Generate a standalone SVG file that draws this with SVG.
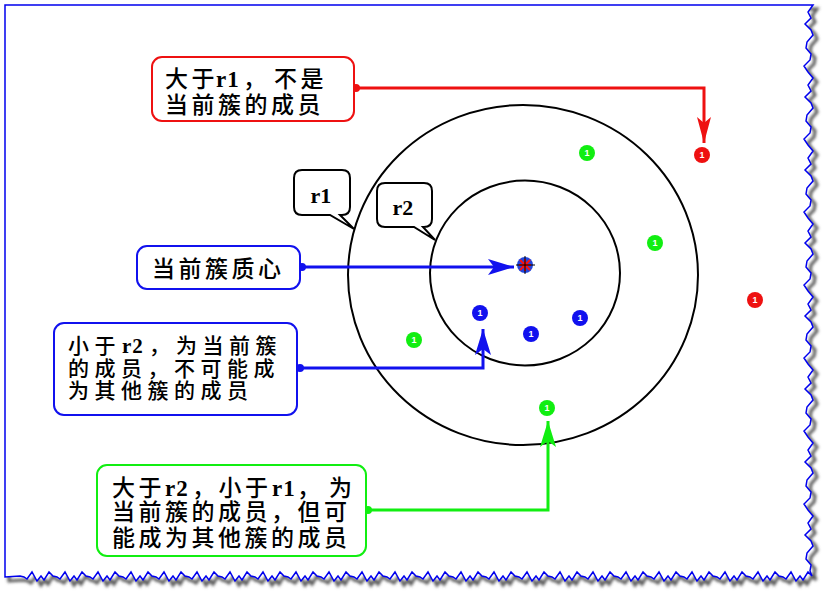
<svg xmlns="http://www.w3.org/2000/svg" xmlns:xlink="http://www.w3.org/1999/xlink" width="829" height="597" viewBox="0 0 829 597">
<style>
.box{fill:#fff;stroke-width:2}
.cn{font-family:"Noto Sans CJK SC","Liberation Sans",sans-serif;font-size:23px;font-weight:500;letter-spacing:3.5px;fill:#000}
.cs{font-size:21px;letter-spacing:5.5px}
.lat{font-family:"Liberation Serif",serif;font-weight:bold;letter-spacing:1px}
.bub{fill:#fff;stroke:#000;stroke-width:2}
.rl{font-family:"Liberation Serif",serif;font-weight:bold;font-size:22px;fill:#000;text-anchor:middle}
.ring{fill:none;stroke:#000;stroke-width:2}
.dt{font-family:"Liberation Sans",Arial,sans-serif;font-weight:bold;font-size:9px;fill:#fff;text-anchor:middle}
.g{fill:#11ee11}.r{fill:#ee1111}.b{fill:#1111ee}
.con{fill:none;stroke-width:3}
</style>
<defs>
<filter id="blur" x="-5%" y="-5%" width="110%" height="110%"><feGaussianBlur stdDeviation="1.6"/></filter>
<path id="frame" d="M5,5 H813 l-5,7 l3,6 l-6,6 l6,6 l2,5 l-6,7 l-1,6 l5,6 l-1,6 l-6,6 l4,6 l5,6 l-5,7 l3,6 l-6,6 l6,6 l2,5 l-6,7 l-1,6 l5,6 l-1,6 l-6,6 l4,6 l5,6 l-5,7 l3,6 l-6,6 l6,6 l2,5 l-6,7 l-1,6 l5,6 l-1,6 l-6,6 l4,6 l5,6 l-5,7 l3,6 l-6,6 l6,6 l2,5 l-6,7 l-1,6 l5,6 l-1,6 l-6,6 l4,6 l5,6 l-5,7 l3,6 l-6,6 l6,6 l2,5 l-6,7 l-1,6 l5,6 l-1,6 l-6,6 l4,6 l5,6 l-5,7 l3,6 l-6,6 l6,6 l2,5 l-6,7 l-1,6 l5,6 l-1,6 l-6,6 l4,6 l5,6 l-5,7 l3,6 l-6,6 l6,6 l2,5 l-6,7 l-1,6 l5,6 l-1,6 l-6,6 l4,6 l5,6 l-5,7 l3,6 l-6,6 l6,6 l2,5 l-6,7 l-1,6 l5,6 l-1,6 l2,5 l-4,-4 l-5,8 l-3,-4 l-4,5 l-5,-9 l-5,7 l-3,-2 l-4,-1 l-4,-4 l-5,8 l-3,-4 l-4,5 l-5,-9 l-5,7 l-3,-2 l-4,-1 l-4,-4 l-5,8 l-3,-4 l-4,5 l-5,-9 l-5,7 l-3,-2 l-4,-1 l-4,-4 l-5,8 l-3,-4 l-4,5 l-5,-9 l-5,7 l-3,-2 l-4,-1 l-4,-4 l-5,8 l-3,-4 l-4,5 l-5,-9 l-5,7 l-3,-2 l-4,-1 l-4,-4 l-5,8 l-3,-4 l-4,5 l-5,-9 l-5,7 l-3,-2 l-4,-1 l-4,-4 l-5,8 l-3,-4 l-4,5 l-5,-9 l-5,7 l-3,-2 l-4,-1 l-4,-4 l-5,8 l-3,-4 l-4,5 l-5,-9 l-5,7 l-3,-2 l-4,-1 l-4,-4 l-5,8 l-3,-4 l-4,5 l-5,-9 l-5,7 l-3,-2 l-4,-1 l-4,-4 l-5,8 l-3,-4 l-4,5 l-5,-9 l-5,7 l-3,-2 l-4,-1 l-4,-4 l-5,8 l-3,-4 l-4,5 l-5,-9 l-5,7 l-3,-2 l-4,-1 l-4,-4 l-5,8 l-3,-4 l-4,5 l-5,-9 l-5,7 l-3,-2 l-4,-1 l-4,-4 l-5,8 l-3,-4 l-4,5 l-5,-9 l-5,7 l-3,-2 l-4,-1 l-4,-4 l-5,8 l-3,-4 l-4,5 l-5,-9 l-5,7 l-3,-2 l-4,-1 l-4,-4 l-5,8 l-3,-4 l-4,5 l-5,-9 l-5,7 l-3,-2 l-4,-1 l-4,-4 l-5,8 l-3,-4 l-4,5 l-5,-9 l-5,7 l-3,-2 l-4,-1 l-4,-4 l-5,8 l-3,-4 l-4,5 l-5,-9 l-5,7 l-3,-2 l-4,-1 l-4,-4 l-5,8 l-3,-4 l-4,5 l-5,-9 l-5,7 l-3,-2 l-4,-1 l-4,-4 l-5,8 l-3,-4 l-4,5 l-5,-9 l-5,7 l-3,-2 l-4,-1 l-4,-4 l-5,8 l-3,-4 l-4,5 l-5,-9 l-5,7 l-3,-2 l-4,-1 l-4,-4 l-5,8 l-3,-4 l-4,5 l-5,-9 l-5,7 l-3,-2 l-4,-1 l-4,-4 l-5,8 l-3,-4 l-4,5 l-5,-9 l-5,7 l-3,-2 l-4,-1 l-4,-4 l-5,8 l-3,-4 l-4,5 l-5,-9 l-5,7 l-3,-2 l-4,-1 l-4,-4 l-5,8 l-3,-4 l-4,5 l-5,-9 l-5,7 l-3,-2 l-4,-1 L5,577 Z"/>
<marker id="aB" markerUnits="userSpaceOnUse" markerWidth="28" markerHeight="16" refX="26" refY="8" orient="auto"><path d="M0,0 L26,8 L0,16 L6,8 Z" fill="#1111ee"/></marker>
<marker id="aR" markerUnits="userSpaceOnUse" markerWidth="28" markerHeight="14" refX="26" refY="7" orient="auto"><path d="M0,0 L26,7 L0,14 L6,7 Z" fill="#ee1111"/></marker>
<marker id="aG" markerUnits="userSpaceOnUse" markerWidth="28" markerHeight="16" refX="26" refY="8" orient="auto"><path d="M0,0 L26,8 L0,16 L6,8 Z" fill="#11ee11"/></marker>
</defs>

<g id="page">
<use xlink:href="#frame" transform="translate(4,4)" fill="none" stroke="#555" stroke-width="3" filter="url(#blur)"/>
<use xlink:href="#frame" fill="#fff" stroke="#0000ee" stroke-width="1.5"/>
</g>

<g id="rings">
<ellipse id="r1ring" class="ring" cx="523" cy="275" rx="175" ry="170"/>
<ellipse id="r2ring" class="ring" cx="525" cy="273" rx="95" ry="92.5"/>
</g>

<g id="connectors">
<path class="con" stroke="#ee1111" d="M356,88 H704 V143" marker-end="url(#aR)"/>
<circle cx="356" cy="88" r="4" class="r"/>
<path class="con" stroke="#1111ee" d="M302,267 H514" marker-end="url(#aB)"/>
<circle cx="302" cy="267" r="4" class="b"/>
<path class="con" stroke="#1111ee" d="M300,368 H483 V329" marker-end="url(#aB)"/>
<circle cx="300" cy="368" r="4" class="b"/>
<path class="con" stroke="#11ee11" d="M368,510 H548 V421" marker-end="url(#aG)"/>
<circle cx="368" cy="510" r="4" class="g"/>
</g>

<g id="centroid">
<circle cx="525" cy="265" r="8" fill="#2244dd"/>
<g stroke="#ff1111" stroke-width="2">
<line x1="520" y1="260" x2="530" y2="270"/><line x1="530" y1="260" x2="520" y2="270"/>
<line x1="525" y1="259" x2="525" y2="271"/><line x1="519" y1="265" x2="531" y2="265"/>
</g>
<line x1="516" y1="265" x2="535" y2="265" stroke="#000" stroke-width="1"/>
<line x1="525" y1="256" x2="525" y2="274" stroke="#000" stroke-width="1"/>
</g>

<g id="points">
<g id="pg1"><circle cx="587" cy="153" r="8" class="g"/><text class="dt" x="587" y="156">1</text></g>
<g id="pr1"><circle cx="702" cy="155" r="8" class="r"/><text class="dt" x="702" y="158">1</text></g>
<g id="pg2"><circle cx="655" cy="243" r="8" class="g"/><text class="dt" x="655" y="246">1</text></g>
<g id="pr2"><circle cx="755" cy="300" r="8" class="r"/><text class="dt" x="755" y="303">1</text></g>
<g id="pb1"><circle cx="480" cy="313" r="8" class="b"/><text class="dt" x="480" y="316">1</text></g>
<g id="pb2"><circle cx="531" cy="334" r="8" class="b"/><text class="dt" x="531" y="337">1</text></g>
<g id="pb3"><circle cx="580" cy="318" r="8" class="b"/><text class="dt" x="580" y="321">1</text></g>
<g id="pg3"><circle cx="414" cy="340" r="8" class="g"/><text class="dt" x="414" y="343">1</text></g>
<g id="pg4"><circle cx="547" cy="408" r="8" class="g"/><text class="dt" x="547" y="411">1</text></g>
</g>

<g id="note-outside">
<rect class="box" x="152" y="57" width="202" height="64" rx="10" stroke="#ee1111"/>
<text class="cn"><tspan x="165" y="87">大于</tspan><tspan class="lat" x="216" y="87">r1</tspan><tspan x="243" y="87">，</tspan><tspan x="274" y="87">不是</tspan><tspan x="165" y="113">当前簇的成员</tspan></text>
</g>

<g id="bubble-r1">
<path class="bub" d="M302,170 H342 Q350,170 350,178 V207 Q350,215 342,215 H340 L354,229 L330,215 H302 Q294,215 294,207 V178 Q294,170 302,170 Z"/>
<text class="rl" x="321" y="203">r1</text>
</g>

<g id="bubble-r2">
<path class="bub" d="M385,183 H424 Q432,183 432,191 V219 Q432,227 424,227 H423 L435,240 L414,227 H385 Q377,227 377,219 V191 Q377,183 385,183 Z"/>
<text class="rl" x="403" y="215">r2</text>
</g>

<g id="note-centroid">
<rect class="box" x="137" y="246" width="163" height="43" rx="10" stroke="#1111ee"/>
<text class="cn" x="152" y="277">当前簇质心</text>
</g>

<g id="note-inner">
<rect class="box" x="54" y="323" width="243" height="92" rx="10" stroke="#1111ee"/>
<text class="cn cs"><tspan x="68" y="353">小于</tspan><tspan class="lat" x="122" y="353">r2</tspan><tspan x="149" y="353">，</tspan><tspan x="176" y="353">为当前簇</tspan><tspan x="68" y="375.5">的成员，不可能成</tspan><tspan x="68" y="398">为其他簇的成员</tspan></text>
</g>

<g id="note-ring">
<rect class="box" x="97" y="465" width="269" height="91" rx="10" stroke="#11ee11"/>
<text class="cn"><tspan x="112" y="496">大于</tspan><tspan class="lat" x="165" y="496">r2</tspan><tspan x="192" y="496">，小于</tspan><tspan class="lat" x="272" y="496">r1</tspan><tspan x="297" y="496">，</tspan><tspan x="329" y="496">为</tspan><tspan x="112" y="520">当前簇的成员，但可</tspan><tspan x="112" y="546">能成为其他簇的成员</tspan></text>
</g>
</svg>
